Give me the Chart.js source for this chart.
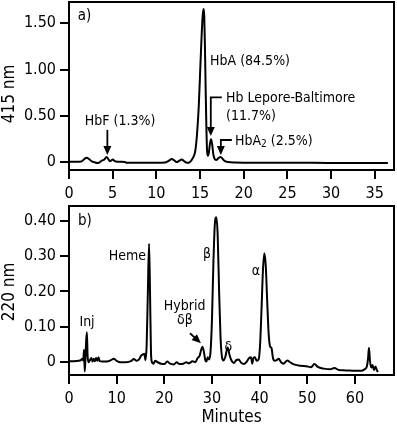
<!DOCTYPE html>
<html><head><meta charset="utf-8">
<script src="https://cdn.jsdelivr.net/npm/chart.js@4.4.1/dist/chart.umd.min.js"></script>
<style>html,body{margin:0;padding:0;background:#fff;overflow:hidden;} canvas{position:absolute;left:0;}</style>
</head><body>
<canvas id="c1" width="397" height="200" style="top:0px"></canvas>
<canvas id="c2" width="397" height="225" style="top:200px"></canvas>
<script>
// ---- Panel a) 415 nm ----
const timeA = [0,0.8,1.4,1.7,2.0,2.3,2.6,2.9,3.2,3.5,3.8,4.05,4.3,4.5,4.7,4.85,5.0,5.2,5.5,6.0,6.4,6.6,8,10,11.0,11.4,11.75,12.05,12.35,12.6,12.9,13.2,13.5,13.8,14.2,14.45,14.65,14.85,15.0,15.15,15.3,15.4,15.48,15.56,15.64,15.72,15.8,15.88,16.0,16.12,16.25,16.38,16.5,16.65,16.85,17.1,17.35,17.6,17.85,18.2,19,22,28,33,36.5];
const absA  = [0.005,0.005,0.008,0.03,0.05,0.035,0.01,0.002,-0.008,0.0,0.02,0.03,0.058,0.035,0.012,0.02,0.03,0.015,0.006,0.006,0.004,-0.004,-0.004,-0.004,-0.002,0.015,0.035,0.02,0.002,0.015,0.03,0.01,-0.006,0.0,0.05,0.12,0.3,0.6,0.95,1.3,1.58,1.655,1.58,1.25,0.8,0.4,0.13,0.07,0.1,0.19,0.25,0.2,0.1,0.04,0.025,0.045,0.058,0.035,0.012,0.003,-0.002,-0.005,-0.006,-0.007,-0.007];
const xTicksA = [0,5,10,15,20,25,30,35];
const yTicksA = [0,0.5,1.0,1.5];

// ---- Panel b) 220 nm ----
const timeB = [0,1.0,2.0,2.5,2.8,3.0,3.15,3.3,3.45,3.6,3.75,3.9,4.1,4.4,4.7,4.95,5.2,5.45,5.7,5.95,6.2,6.45,7.0,8.0,8.8,9.4,10.0,10.8,12.0,13.0,13.6,14.2,14.7,15.1,15.5,15.8,16.05,16.3,16.55,16.8,17.0,17.2,17.4,17.7,18.1,18.6,19.3,20.0,20.6,21.2,22.0,22.6,23.2,24.0,24.6,25.2,25.9,26.5,27.0,27.4,27.75,28.0,28.3,28.6,28.85,29.1,29.4,29.7,30.0,30.3,30.6,30.9,31.2,31.5,31.8,32.1,32.4,32.8,33.3,33.7,34.1,34.6,35.1,35.6,36.1,36.7,37.2,37.8,38.2,38.45,38.7,39.0,39.4,39.8,40.1,40.4,40.7,41.0,41.3,41.6,41.9,42.2,42.5,42.8,43.2,43.6,44.0,44.5,45.0,45.8,46.4,47.2,48.5,49.8,50.8,51.5,52.2,53.5,54.8,55.7,56.6,58.0,60.0,61.3,62.0,62.5,62.75,62.95,63.15,63.4,63.7,64.0,64.3,64.55,64.8];
const absB  = [0.003,0.003,0.004,0.006,0.01,0.005,0.035,-0.026,0.01,0.06,0.085,0.02,0.0,0.006,0.012,0.002,0.01,0.003,0.012,0.004,0.014,0.003,0.002,0.002,0.006,0.01,0.004,0.0,0.0,0.003,0.009,0.004,0.008,0.018,0.022,0.024,0.006,0.05,0.2,0.335,0.2,0.03,0.0,-0.004,0.004,0.0,-0.004,-0.005,0.002,-0.004,-0.006,0.0,-0.005,-0.004,0.0,-0.003,0.003,0.0,0.012,0.018,0.036,0.044,0.03,0.006,0.002,0.014,0.008,0.03,0.12,0.28,0.39,0.41,0.36,0.2,0.07,0.015,0.005,0.015,0.042,0.02,0.005,-0.002,0.006,0.008,-0.001,-0.005,0.0,0.012,0.014,-0.004,0.012,0.014,0.004,0.008,0.05,0.15,0.26,0.308,0.27,0.17,0.08,0.045,0.04,0.012,0.004,0.006,0.01,0.0,-0.004,0.005,0.0,-0.006,-0.01,-0.011,-0.014,-0.005,-0.013,-0.018,-0.02,-0.016,-0.022,-0.023,-0.024,-0.024,-0.02,-0.012,0.01,0.041,0.005,-0.015,-0.008,-0.022,-0.012,-0.02,-0.028];
const xTicksB = [0,10,20,30,40,50,60];
const yTicksB = [0,0.1,0.2,0.3,0.4];

const FONT = "'DejaVu Sans Condensed','Liberation Sans Narrow',Arial,sans-serif";

function fmtY(v){ return v === 0 ? '0' : v.toFixed(2); }

function arrowHead(ctx, x1, y1, x2, y2, len, half){
  const a = Math.atan2(y2-y1, x2-x1);
  ctx.beginPath();
  ctx.moveTo(x2, y2);
  ctx.lineTo(x2 - len*Math.cos(a) + half*Math.sin(a), y2 - len*Math.sin(a) - half*Math.cos(a));
  ctx.lineTo(x2 - len*Math.cos(a) - half*Math.sin(a), y2 - len*Math.sin(a) + half*Math.cos(a));
  ctx.closePath();
  ctx.fill();
}

const framePlugin = {
  id: 'frame',
  afterDatasetsDraw(chart, args, opts){
    const ctx = chart.ctx, a = chart.chartArea;
    const xs = chart.scales.x, ys = chart.scales.y;
    const X = v => xs.getPixelForValue(v), Y = v => ys.getPixelForValue(v);
    ctx.save();
    ctx.strokeStyle = '#000'; ctx.lineWidth = 2;
    ctx.strokeRect(a.left, a.top, a.right - a.left, a.bottom - a.top);
    ctx.fillStyle = '#000';
    ctx.textBaseline = 'middle';
    ctx.save();
    ctx.font = '17px ' + FONT;
    ctx.translate(opts.yTitleX, opts.yTitleY);
    ctx.rotate(-Math.PI/2);
    ctx.textAlign = 'center';
    ctx.fillText(opts.yTitle, 0, 0);
    ctx.restore();
    (opts.texts || []).forEach(t => {
      ctx.font = (t.size || 14) + 'px ' + (t.font || FONT);
      ctx.textAlign = t.align || 'left';
      if (t.sub) {
        let x = X(t.x), y = Y(t.y);
        ctx.textAlign = 'left';
        ctx.fillText(t.text, x, y);
        x += ctx.measureText(t.text).width;
        ctx.font = '10px ' + FONT;
        ctx.fillText(t.sub, x, y + 3);
        x += ctx.measureText(t.sub).width;
        ctx.font = (t.size || 14) + 'px ' + FONT;
        ctx.fillText(t.rest, x, y);
      } else {
        ctx.fillText(t.text, X(t.x), Y(t.y));
      }
    });
    ctx.lineWidth = 1.8;
    (opts.arrows || []).forEach(ar => {
      const pts = ar.pts.map(p => [X(p[0]), Y(p[1])]);
      ctx.beginPath();
      ctx.moveTo(pts[0][0], pts[0][1]);
      for (let i = 1; i < pts.length; i++) {
        let [x, y] = pts[i];
        if (i === pts.length - 1) {
          const [px, py] = pts[i-1];
          const d = Math.hypot(x-px, y-py);
          x = x - (x-px)/d*6; y = y - (y-py)/d*6;
        }
        ctx.lineTo(x, y);
      }
      ctx.stroke();
      const n = pts.length;
      arrowHead(ctx, pts[n-2][0], pts[n-2][1], pts[n-1][0], pts[n-1][1], 9, 4);
    });
    ctx.restore();
  }
};

function makeChart(id, times, vals, xMin, xMax, yMin, yMax, xTicks, yTicks, padTop, xAxisH, xTitle, frameOpts){
  const pts = times.map((t, i) => ({x: t, y: vals[i]}));
  return new Chart(document.getElementById(id), {
    type: 'line',
    data: { datasets: [{ data: pts, borderColor: '#000', borderWidth: 2, pointRadius: 0, fill: false, cubicInterpolationMode: 'monotone' }] },
    options: {
      responsive: false, animation: false, devicePixelRatio: 1,
      layout: { padding: { top: padTop, right: 3, left: 0, bottom: 0 } },
      plugins: { legend: { display: false }, tooltip: { enabled: false }, frame: frameOpts },
      scales: {
        x: {
          type: 'linear', min: xMin, max: xMax,
          afterBuildTicks: s => { s.ticks = xTicks.map(v => ({value: v})); },
          afterFit: s => { s.height = xAxisH; s.paddingLeft = 0; s.paddingRight = 0; },
          ticks: { color: '#000', font: { size: 16, family: FONT }, padding: 5, maxRotation: 0, autoSkip: false, callback: v => String(v) },
          grid: { display: true, drawOnChartArea: false, drawTicks: true, tickLength: 9, color: '#000', lineWidth: 2 },
          border: { display: false },
          title: { display: !!xTitle, text: xTitle || '', color: '#000', font: { size: 17, family: FONT, lineHeight: 1.0 }, padding: { top: 0, bottom: -1 } }
        },
        y: {
          type: 'linear', min: yMin, max: yMax,
          afterBuildTicks: s => { s.ticks = yTicks.map(v => ({value: v})); },
          afterFit: s => { s.width = 69; s.paddingTop = 0; s.paddingBottom = 0; },
          ticks: { color: '#000', font: { size: 16, family: FONT }, padding: 4, autoSkip: false, callback: v => fmtY(v) },
          grid: { display: true, drawOnChartArea: false, drawTicks: true, tickLength: 9, color: '#000', lineWidth: 2 },
          border: { display: false }
        }
      }
    },
    plugins: [framePlugin]
  });
}

makeChart('c1', timeA, absA, 0, 37.2, -0.083, 1.73, xTicksA, yTicksA, 2, 30, null, {
  yTitle: '415 nm', yTitleX: 10, yTitleY: 94,
  texts: [
    { text: 'a)', x: 1.0, y: 1.58, size: 15 },
    { text: 'HbF (1.3%)', x: 5.84, y: 0.445, align: 'center' },
    { text: 'HbA (84.5%)', x: 16.15, y: 1.094 },
    { text: 'Hb Lepore-Baltimore', x: 17.98, y: 0.694 },
    { text: '(11.7%)', x: 17.98, y: 0.50 },
    { text: 'HbA', sub: '2', rest: ' (2.5%)', x: 19.0, y: 0.23 }
  ],
  arrows: [
    { pts: [[4.39, 0.35], [4.39, 0.08]] },
    { pts: [[17.49, 0.70], [16.23, 0.70], [16.23, 0.284]] },
    { pts: [[18.64, 0.241], [17.38, 0.241], [17.38, 0.079]] }
  ]
});

makeChart('c2', timeB, absB, 0, 68.2, -0.036, 0.4415, xTicksB, yTicksB, 6, 50, 'Minutes', {
  yTitle: '220 nm', yTitleX: 10, yTitleY: 92,
  texts: [
    { text: 'b)', x: 1.9, y: 0.399, size: 15 },
    { text: 'Inj', x: 3.78, y: 0.114, align: 'center' },
    { text: 'Heme', x: 12.27, y: 0.30, align: 'center' },
    { text: 'Hybrid', x: 24.27, y: 0.159, align: 'center' },
    { text: 'δβ', x: 24.33, y: 0.117, align: 'center' },
    { text: 'β', x: 28.95, y: 0.306, align: 'center' },
    { text: 'δ', x: 33.46, y: 0.043, align: 'center' },
    { text: 'α', x: 39.23, y: 0.258, align: 'center' }
  ],
  arrows: [
    { pts: [[25.38, 0.082], [27.69, 0.054]] }
  ]
});
</script>
</body></html>
